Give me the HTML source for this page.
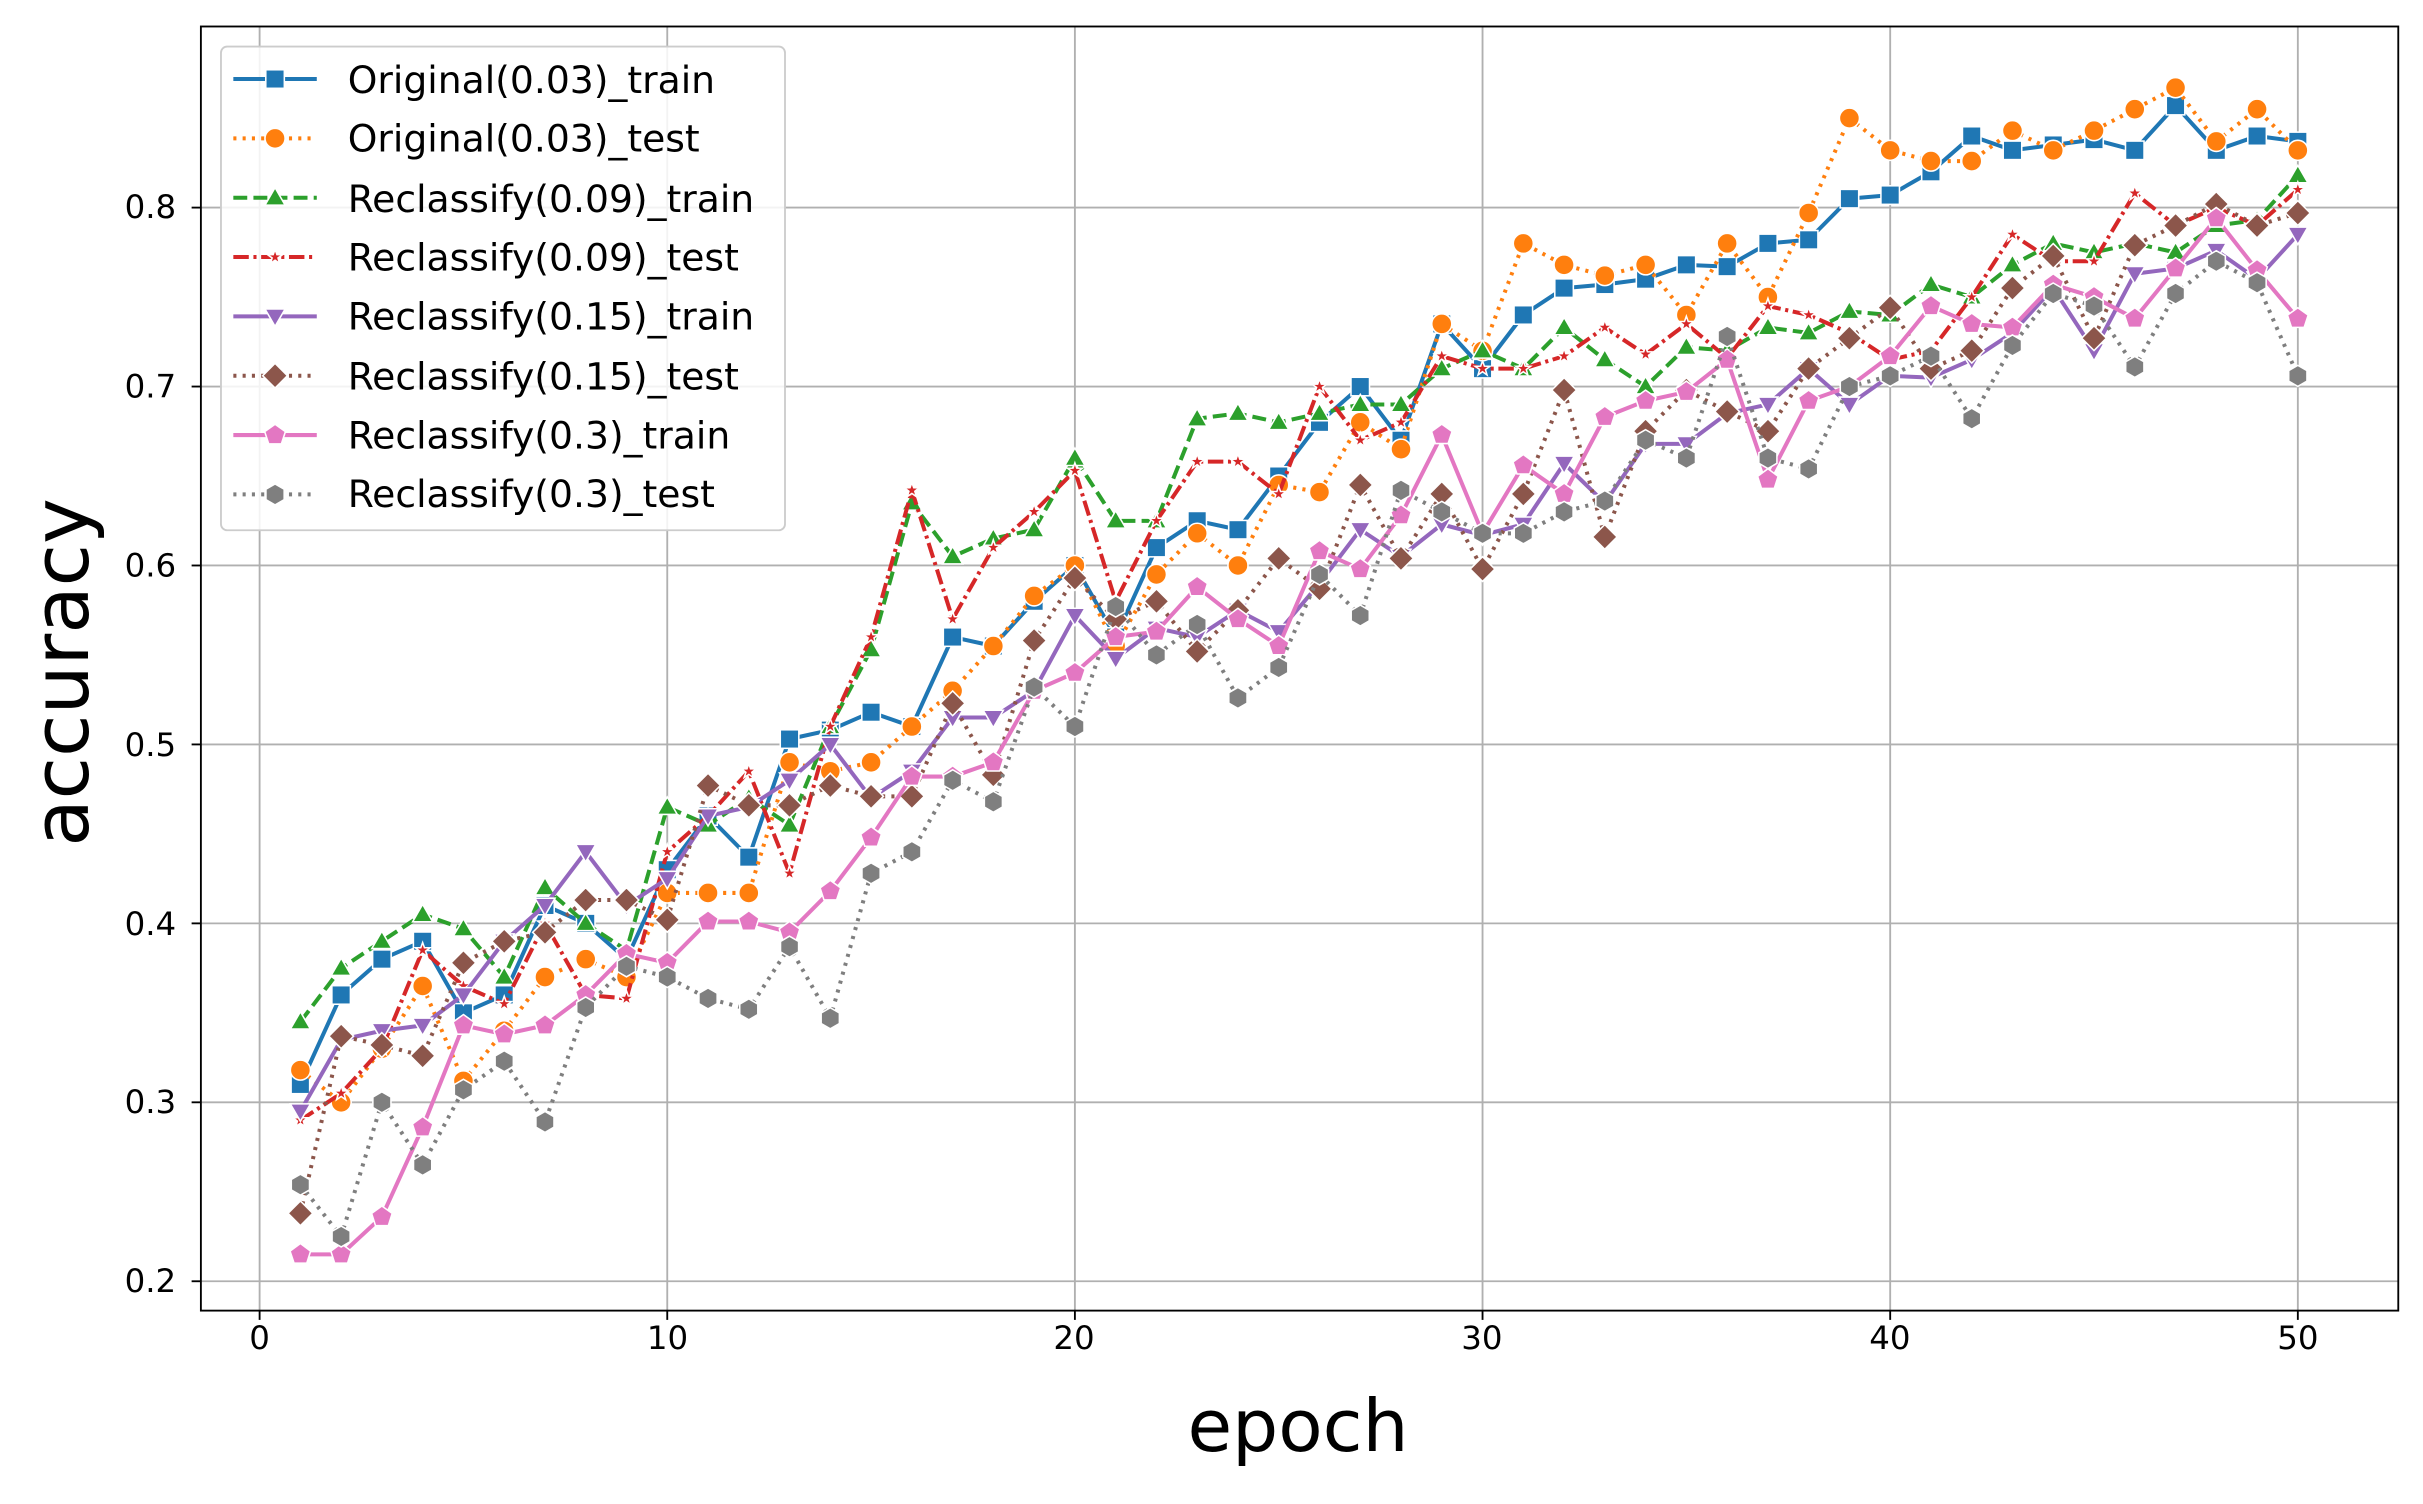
<!DOCTYPE html>
<html><head><meta charset="utf-8">
<style>html,body{margin:0;padding:0;background:#fff}svg{display:block}text{font-family:"DejaVu Sans","Liberation Sans",sans-serif;fill:#000}</style>
</head><body>
<svg id="s" width="2423" height="1504" viewBox="0 0 1568 973" xmlns="http://www.w3.org/2000/svg">
<rect width="1568" height="973" fill="#fff"/>
<g id="grid" stroke="#b0b0b0" stroke-width="1.2"></g>
<g id="data"></g>
<rect x="130" y="17" width="1422" height="831" fill="none" stroke="#000" stroke-width="1.2"/>
<g font-size="21" text-anchor="middle">
<text x="168" y="873">0</text><text x="432" y="873">10</text><text x="695" y="873">20</text><text x="959" y="873">30</text><text x="1223" y="873">40</text><text x="1487" y="873">50</text>
</g>
<g font-size="21" text-anchor="end">
<text x="114" y="836">0.2</text><text x="114" y="720">0.3</text><text x="114" y="605">0.4</text><text x="114" y="489">0.5</text><text x="114" y="373">0.6</text><text x="114" y="257">0.7</text><text x="114" y="141">0.8</text>
</g>
<text x="840" y="939" font-size="47" text-anchor="middle">epoch</text>
<text transform="translate(57,435) rotate(-90)" font-size="50" text-anchor="middle">accuracy</text>
<rect x="143" y="30" width="365" height="313" rx="4" fill="#fff" fill-opacity="0.85" stroke="#ccc" stroke-width="1.2"/>
<g id="leg"></g>
<g font-size="24.4">
<text x="225" y="60">Original(0.03)_train</text>
<text x="225" y="98">Original(0.03)_test</text>
<text x="225" y="137">Reclassify(0.09)_train</text>
<text x="225" y="175">Reclassify(0.09)_test</text>
<text x="225" y="213">Reclassify(0.15)_train</text>
<text x="225" y="252">Reclassify(0.15)_test</text>
<text x="225" y="290">Reclassify(0.3)_train</text>
<text x="225" y="328">Reclassify(0.3)_test</text>
</g>
</svg>
<script>
function X(e){return 168+(e)*26.38;}
function Y(v){return 829-(v-0.2)*1158;}
var g=document.getElementById('grid');
for(var i=0;i<=5;i++){var x=X(i*10);g.innerHTML+='<line x1="'+x+'" y1="17" x2="'+x+'" y2="848"/><line x1="'+x+'" y1="848" x2="'+x+'" y2="854" stroke="#000"/>';}
for(var j=2;j<=8;j++){var y=Y(j/10);g.innerHTML+='<line x1="130" y1="'+y+'" x2="1552" y2="'+y+'"/><line x1="124" y1="'+y+'" x2="130" y2="'+y+'" stroke="#000"/>';}
var S=[
["#1f77b4","","sq",[0.31,0.36,0.38,0.39,0.35,0.36,0.41,0.40,0.38,0.43,0.46,0.437,0.503,0.508,0.518,0.51,0.56,0.555,0.58,0.60,0.56,0.61,0.625,0.62,0.65,0.68,0.70,0.67,0.735,0.71,0.74,0.755,0.757,0.76,0.768,0.767,0.78,0.782,0.805,0.807,0.82,0.84,0.832,0.835,0.838,0.832,0.857,0.832,0.84,0.837]],
["#ff7f0e","2,4","ci",[0.318,0.30,0.33,0.365,0.312,0.34,0.37,0.38,0.37,0.417,0.417,0.417,0.49,0.485,0.49,0.51,0.53,0.555,0.583,0.60,0.555,0.595,0.618,0.60,0.645,0.641,0.68,0.665,0.735,0.72,0.78,0.768,0.762,0.768,0.74,0.78,0.75,0.797,0.85,0.832,0.826,0.826,0.843,0.832,0.843,0.855,0.867,0.837,0.855,0.832]],
["#2ca02c","9,4","tu",[0.345,0.375,0.39,0.405,0.397,0.37,0.42,0.40,0.385,0.465,0.455,0.47,0.455,0.51,0.553,0.635,0.605,0.615,0.62,0.66,0.625,0.625,0.682,0.685,0.68,0.685,0.69,0.69,0.71,0.72,0.71,0.733,0.715,0.70,0.722,0.72,0.733,0.73,0.742,0.74,0.757,0.75,0.768,0.78,0.775,0.78,0.775,0.79,0.793,0.818]],
["#d62728","10,3,2,3","st",[0.29,0.305,0.33,0.385,0.365,0.355,0.40,0.36,0.358,0.44,0.46,0.485,0.428,0.51,0.56,0.642,0.57,0.61,0.63,0.653,0.58,0.625,0.658,0.658,0.64,0.70,0.67,0.68,0.717,0.71,0.71,0.717,0.733,0.718,0.735,0.716,0.745,0.74,0.73,0.715,0.72,0.75,0.785,0.77,0.77,0.808,0.79,0.80,0.79,0.81]],
["#9467bd","","td",[0.295,0.335,0.34,0.343,0.36,0.39,0.41,0.44,0.41,0.425,0.46,0.465,0.48,0.50,0.47,0.485,0.515,0.515,0.53,0.572,0.548,0.565,0.56,0.575,0.563,0.59,0.62,0.605,0.623,0.617,0.623,0.657,0.635,0.668,0.668,0.685,0.69,0.71,0.69,0.706,0.705,0.715,0.73,0.755,0.72,0.763,0.766,0.776,0.76,0.785]],
["#8c564b","2,4","di",[0.238,0.337,0.332,0.326,0.378,0.39,0.395,0.413,0.413,0.402,0.477,0.466,0.466,0.477,0.471,0.471,0.523,0.483,0.558,0.593,0.57,0.58,0.552,0.575,0.604,0.587,0.645,0.604,0.64,0.598,0.64,0.698,0.616,0.675,0.698,0.686,0.675,0.71,0.727,0.744,0.71,0.72,0.755,0.773,0.727,0.779,0.79,0.802,0.79,0.797]],
["#e377c2","","pe",[0.215,0.215,0.236,0.286,0.343,0.338,0.343,0.36,0.383,0.378,0.401,0.401,0.395,0.418,0.448,0.482,0.482,0.49,0.53,0.54,0.56,0.563,0.588,0.57,0.555,0.608,0.598,0.628,0.673,0.618,0.656,0.64,0.683,0.692,0.697,0.715,0.648,0.692,0.7,0.717,0.745,0.735,0.733,0.757,0.75,0.738,0.766,0.794,0.765,0.738]],
["#7f7f7f","2,4","hx",[0.254,0.225,0.3,0.265,0.307,0.323,0.289,0.353,0.376,0.37,0.358,0.352,0.387,0.347,0.428,0.44,0.48,0.468,0.532,0.51,0.577,0.55,0.567,0.526,0.543,0.595,0.572,0.642,0.63,0.618,0.618,0.63,0.636,0.67,0.66,0.728,0.66,0.654,0.7,0.706,0.717,0.682,0.723,0.752,0.745,0.711,0.752,0.77,0.758,0.706]]];
function poly(n,r,rot,x,y){var p=[];for(var k=0;k<n;k++){var a=rot+k*2*Math.PI/n;p.push((x+r*Math.cos(a)).toFixed(1)+','+(y+r*Math.sin(a)).toFixed(1));}return p.join(' ');}
function star(x,y,r){var p=[];for(var k=0;k<10;k++){var rr=k%2?r*0.4:r;var a=-Math.PI/2+k*Math.PI/5;p.push((x+rr*Math.cos(a)).toFixed(1)+','+(y+rr*Math.sin(a)).toFixed(1));}return p.join(' ');}
function mk(t,x,y,c){var a='fill="'+c+'" stroke="#fff" stroke-width="1"';
switch(t){case'sq':return '<rect x="'+(x-6)+'" y="'+(y-6)+'" width="12" height="12" '+a+'/>';
case'ci':return '<circle cx="'+x+'" cy="'+y+'" r="6.5" '+a+'/>';
case'tu':return '<polygon points="'+poly(3,7.5,-Math.PI/2,x,y+1)+'" '+a+'/>';
case'td':return '<polygon points="'+poly(3,7.5,Math.PI/2,x,y-1)+'" '+a+'/>';
case'st':return '<polygon points="'+star(x,y,5)+'" '+a+' stroke-width="0.5"/>';
case'di':return '<polygon points="'+poly(4,8,-Math.PI/2,x,y)+'" '+a+'/>';
case'pe':return '<polygon points="'+poly(5,7,-Math.PI/2,x,y)+'" '+a+'/>';
case'hx':return '<polygon points="'+poly(6,6.8,-Math.PI/2,x,y)+'" '+a+'/>';}}
var d='',L='';
S.forEach(function(s,i){var pts=s[3].map(function(v,k){return X(k+1).toFixed(1)+','+Y(v).toFixed(1);}).join(' ');
d+='<polyline points="'+pts+'" fill="none" stroke="'+s[0]+'" stroke-width="2.6" '+(s[1]?'stroke-dasharray="'+s[1]+'"':'')+' stroke-linejoin="round"/>';
s[3].forEach(function(v,k){d+=mk(s[2],X(k+1),Y(v),s[0]);});
var ly=51+i*38.4;L+='<line x1="151" y1="'+ly+'" x2="205" y2="'+ly+'" stroke="'+s[0]+'" stroke-width="2.6" '+(s[1]?'stroke-dasharray="'+s[1]+'"':'')+'/>'+mk(s[2],178,ly,s[0]);});
document.getElementById('data').innerHTML=d;document.getElementById('leg').innerHTML=L;
</script>
</body></html>
